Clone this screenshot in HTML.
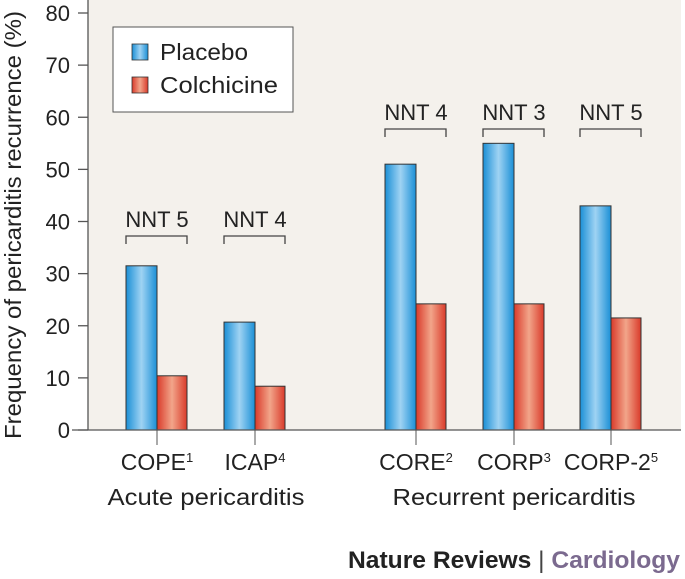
<!DOCTYPE html>
<html><head><meta charset="utf-8"><style>
body{margin:0;background:#fff;}
svg{display:block;font-family:"Liberation Sans Narrow","Liberation Sans",sans-serif;}
</style></head><body>
<svg id="chart" width="685" height="579" viewBox="0 0 685 579">
<defs>
<linearGradient id="gb" x1="0" x2="1"><stop offset="0" stop-color="#1a8fd6"/><stop offset="0.5" stop-color="#9fd3f3"/><stop offset="1" stop-color="#1a8fd6"/></linearGradient>
<linearGradient id="gr" x1="0" x2="1"><stop offset="0" stop-color="#d93a2a"/><stop offset="0.5" stop-color="#f2a58a"/><stop offset="1" stop-color="#d93a2a"/></linearGradient>
</defs>
<rect x="88" y="0" width="593" height="430" fill="#f4f1ec"/>
<g id="ax"></g>
<g id="bars"></g>
<g>
<rect x="113" y="27" width="180" height="85" fill="#fff" stroke="#555" stroke-width="1"/>
<rect x="132" y="44" width="16" height="16" fill="url(#gb)" stroke="#333" stroke-width="0.8"/>
<text x="160" y="60" font-size="23" fill="#222" textLength="88" lengthAdjust="spacingAndGlyphs">Placebo</text>
<rect x="132" y="77" width="16" height="16" fill="url(#gr)" stroke="#333" stroke-width="0.8"/>
<text x="160" y="93" font-size="23" fill="#222" textLength="118" lengthAdjust="spacingAndGlyphs">Colchicine</text>
</g>
<text transform="translate(21,225) rotate(-90)" text-anchor="middle" font-size="23" fill="#222" textLength="428" lengthAdjust="spacingAndGlyphs">Frequency of pericarditis recurrence (%)</text>
<text x="206" y="505" text-anchor="middle" font-size="23" fill="#222" textLength="197" lengthAdjust="spacingAndGlyphs">Acute pericarditis</text>
<text x="514" y="505" text-anchor="middle" font-size="23" fill="#222" textLength="243" lengthAdjust="spacingAndGlyphs">Recurrent pericarditis</text>
<text x="680" y="568" text-anchor="end" font-size="24" font-weight="bold" fill="#222" textLength="332" lengthAdjust="spacingAndGlyphs">Nature Reviews <tspan font-weight="normal" fill="#444">|</tspan> <tspan fill="#7b6a8f">Cardiology</tspan></text>
</svg>
<script>
const categories=["COPE","ICAP","CORE","CORP","CORP-2"];
const sups=["1","4","2","3","5"];
const placebo=[31.5,20.7,51,55,43];
const colchicine=[10.4,8.4,24.2,24.2,21.5];
const nntLabels=["NNT 5","NNT 4","NNT 4","NNT 3","NNT 5"];
const yTicks=[0,10,20,30,40,50,60,70,80];
const centers=[157,255,416,514,611];
const bracketY=[236,236,129,129,129];
const ns="http://www.w3.org/2000/svg";
const y=v=>430-v*417/80;
function mk(t,a,p){const e=document.createElementNS(ns,t);for(const k in a)e.setAttribute(k,a[k]);p.appendChild(e);return e;}
const ax=document.getElementById('ax'),bars=document.getElementById('bars');
const yl=mk('line',{x1:88,y1:0,x2:88,y2:430,stroke:'#555','stroke-width':1.3},ax);


yTicks.forEach(t=>{
 const l=mk('line',{x1:78,x2:88,y1:y(t),y2:y(t),stroke:'#555','stroke-width':1.3},ax);
 
 
 const tx=mk('text',{x:70,y:y(t)+8,'text-anchor':'end','font-size':22,fill:'#222'},ax);
 tx.textContent=t;
 
 
});
categories.forEach((c,i)=>{
 const cx=centers[i];
 const bp=mk('rect',{x:cx-31,y:y(placebo[i]),width:31,height:430-y(placebo[i]),fill:'url(#gb)',stroke:'#333','stroke-width':1},bars);
 
 
 const bc=mk('rect',{x:cx,y:y(colchicine[i]),width:30,height:430-y(colchicine[i]),fill:'url(#gr)',stroke:'#333','stroke-width':1},bars);
 
 
 const tk=mk('line',{x1:cx,x2:cx,y1:430,y2:445,stroke:'#555','stroke-width':1},ax);
 
 
 const lb=mk('text',{x:cx,y:470,'text-anchor':'middle','font-size':23,fill:'#222'},ax);
 lb.textContent=c;
 const sp=mk('tspan',{'font-size':13,dy:-8},lb);sp.textContent=sups[i];
 
 
 const by=bracketY[i];
 const br=mk('path',{d:`M${cx-31},${by+8}V${by}H${cx+30}V${by+8}`,fill:'none',stroke:'#444','stroke-width':1.3},ax);
 
 
 const nt=mk('text',{x:cx,y:by-9,'text-anchor':'middle','font-size':22,fill:'#222'},ax);
 nt.textContent=nntLabels[i];
 
 
});
const xl=mk('line',{x1:72,x2:681,y1:430,y2:430,stroke:'#555','stroke-width':1.3},bars);


</script>
</body></html>
